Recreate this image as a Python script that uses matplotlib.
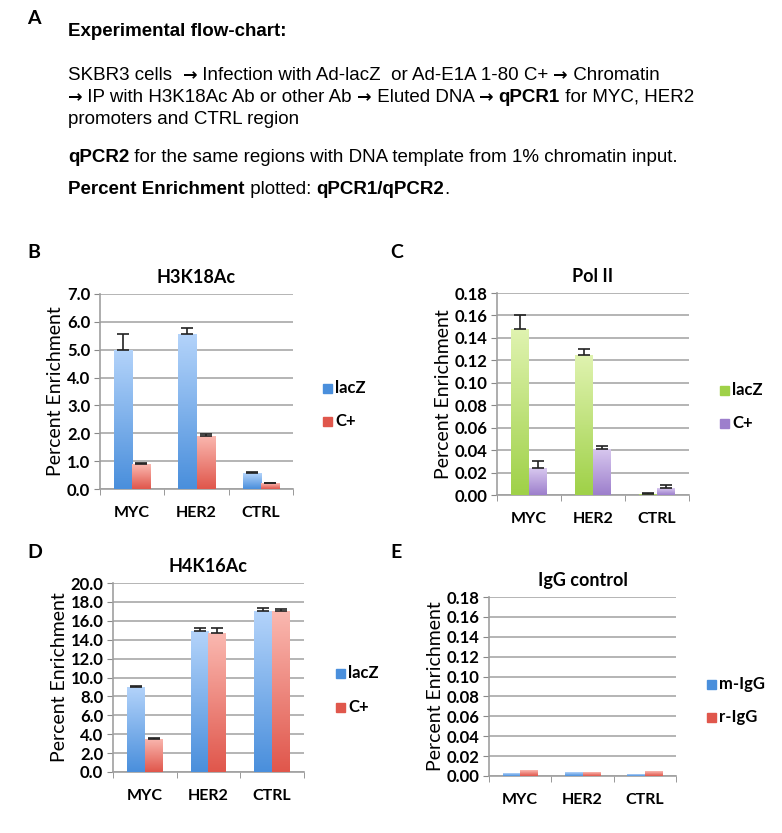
import matplotlib.pyplot as plt
import numpy as np
from matplotlib.colors import LinearSegmentedColormap

regions = ['MYC', 'HER2', 'CTRL']

# B: H3K18Ac
b_lacz = [5.0, 5.55, 0.57]
b_lacz_err = [0.55, 0.22, 0.03]
b_cplus = [0.88, 1.92, 0.20]
b_cplus_err = [0.05, 0.05, 0.03]

# C: Pol II
c_lacz = [0.148, 0.125, 0.001]
c_lacz_err = [0.012, 0.005, 0.001]
c_cplus = [0.024, 0.041, 0.006]
c_cplus_err = [0.006, 0.003, 0.003]

# D: H4K16Ac
d_lacz = [9.0, 14.9, 17.0]
d_lacz_err = [0.1, 0.3, 0.4]
d_cplus = [3.5, 14.7, 17.0]
d_cplus_err = [0.1, 0.5, 0.3]

# E: IgG control
e_migg = [0.003, 0.004, 0.002]
e_rigg = [0.006, 0.004, 0.005]

BLUE = ('#b3d3fa', '#4a8fdc')
RED = ('#fab8b0', '#e0574c')
GREEN = ('#e0f3b0', '#9fd148')
PURPLE = ('#d8c8ef', '#9d7fcc')

CF = 'Lato'
TF = 'Liberation Sans'

plt.rcParams['font.family'] = [CF, 'DejaVu Sans']

fig = plt.figure(figsize=(7.82, 8.33), dpi=100)
W, H = 782, 833


def px_axes(x0, y0, x1, y1):
    # pixel box (top-left origin) -> figure axes
    return fig.add_axes([x0 / W, 1 - y1 / H, (x1 - x0) / W, (y1 - y0) / H])


def grad_bars(ax, x, vals, width, cols, err=None):
    bars = ax.bar(x, vals, width, color=cols[1], zorder=2, lw=0)
    cmap = LinearSegmentedColormap.from_list('g', [cols[1], cols[0]])
    grad = np.linspace(0, 1, 64).reshape(-1, 1)
    for b in bars:
        x0, y0 = b.get_x(), b.get_y()
        im = ax.imshow(grad, cmap=cmap, origin='lower', aspect='auto', zorder=3,
                       extent=[x0, x0 + b.get_width(), y0, y0 + b.get_height()])
        im.set_clip_path(b)
    if err is not None:
        ax.errorbar(x, vals, yerr=[np.zeros(len(vals)), err], fmt='none',
                    ecolor='#222222', elinewidth=1.2, capsize=4, capthick=1.2, zorder=4)
    return bars


def panel(box, title, letter, letter_xy, s1, s2, e1, e2, cols1, cols2, names,
          ymax, step, fmt, leg_x, leg_y):
    ax = px_axes(*box)
    x = np.arange(len(regions))
    w = 0.28
    grad_bars(ax, x - w / 2, s1, w, cols1, e1)
    grad_bars(ax, x + w / 2, s2, w, cols2, e2)
    ax.set_xlim(-0.5, 2.5)
    ax.set_ylim(0, ymax)
    ticks = np.arange(0, ymax + step / 2, step)
    ax.set_yticks(ticks)
    ax.set_yticklabels([fmt.format(t) for t in ticks], fontsize=12, fontweight='bold')
    ax.set_xticks(x)
    ax.set_xticklabels(regions, fontsize=11.5, fontweight='bold')
    ax.set_xticks([-0.5, 0.5, 1.5, 2.5], minor=True)
    ax.tick_params(axis='x', which='major', length=0, pad=12)
    ax.tick_params(axis='x', which='minor', length=4, color='#888888')
    ax.tick_params(axis='y', length=4, color='#888888', pad=3)
    ax.grid(axis='y', color='#a8a8a8', lw=1.2, zorder=0)
    ax.set_axisbelow(True)
    for s in ['top', 'right']:
        ax.spines[s].set_visible(False)
    for s in ['left', 'bottom']:
        ax.spines[s].set_color('#a0a0a0')
        ax.spines[s].set_linewidth(1.2)
    ax.set_ylabel('Percent Enrichment', fontsize=14, labelpad=2)
    ax.set_title(title, fontsize=13, fontweight='bold', pad=8)
    fig.text(letter_xy[0] / W, 1 - letter_xy[1] / H, letter, fontsize=14,
             fontweight='bold', ha='left', va='center')
    for i, (nm, c) in enumerate(zip(names, [cols1, cols2])):
        yy = leg_y[i]
        fig.patches.append(plt.Rectangle((leg_x / W, 1 - (yy + 5) / H), 9 / W, 9 / H,
                                         transform=fig.transFigure, color=c[1],
                                         figure=fig))
        fig.text((leg_x + 12) / W, 1 - yy / H, nm, fontsize=12, fontweight='bold',
                 ha='left', va='center')
    return ax


panel((100, 294, 293, 489), 'H3K18Ac', 'B', (27, 253), b_lacz, b_cplus, b_lacz_err,
      b_cplus_err, BLUE, RED, ['lacZ', 'C+'], 7.0, 1.0, '{:.1f}', 323, (388, 421))
panel((497, 293, 689, 495), 'Pol II', 'C', (390, 253), c_lacz, c_cplus, c_lacz_err,
      c_cplus_err, GREEN, PURPLE, ['lacZ', 'C+'], 0.18, 0.02, '{:.2f}', 720, (390, 423))
panel((113, 583, 304, 772), 'H4K16Ac', 'D', (27, 553), d_lacz, d_cplus, d_lacz_err,
      d_cplus_err, BLUE, RED, ['lacZ', 'C+'], 20.0, 2.0, '{:.1f}', 336, (673, 707))
panel((489, 597, 676, 776), 'IgG control', 'E', (390, 552), e_migg, e_rigg, None,
      None, BLUE, RED, ['m-IgG', 'r-IgG'], 0.18, 0.02, '{:.2f}', 707, (684, 717))

# panel A text
fig.text(27 / W, 1 - 18 / H, 'A', fontsize=14, fontweight='bold', family=CF,
         ha='left', va='center')
FS = 13.5
fig.text(68 / W, 1 - 32 / H, 'Experimental flow-chart:', fontsize=FS, fontweight='bold',
         family=TF, va='center')
ARR = '\u2192'
lines = [
    (75, [('SKBR3 cells  ' + ARR + ' Infection with Ad-lacZ  or Ad-E1A 1-80 C+ ' + ARR + ' Chromatin', 'normal')]),
    (97, [(ARR + ' IP with H3K18Ac Ab or other Ab ' + ARR + ' Eluted DNA ' + ARR + ' ', 'normal'),
          ('qPCR1', 'bold'), (' for MYC, HER2', 'normal')]),
    (119, [('promoters and CTRL region', 'normal')]),
    (157, [('qPCR2', 'bold'), (' for the same regions with DNA template from 1% chromatin input.', 'normal')]),
    (189, [('Percent Enrichment', 'bold'), (' plotted: ', 'normal'), ('qPCR1/qPCR2', 'bold'),
           ('.', 'normal')]),
]
fig.canvas.draw()
r = fig.canvas.get_renderer()
for y, parts in lines:
    x = 68
    for s, wgt in parts:
        # arrows drawn in DejaVu Sans bold, the rest in Liberation Sans
        pieces = s.split(ARR)
        for k, piece in enumerate(pieces):
            if k > 0:
                t = fig.text(x / W, 1 - y / H, ARR, fontsize=FS - 1, fontweight='bold',
                             family='DejaVu Sans', va='center', ha='left')
                x += t.get_window_extent(r).width
            if piece:
                t = fig.text(x / W, 1 - y / H, piece, fontsize=FS, fontweight=wgt,
                             family=TF, va='center', ha='left')
                x += t.get_window_extent(r).width

fig.savefig('out.png', dpi=100)
